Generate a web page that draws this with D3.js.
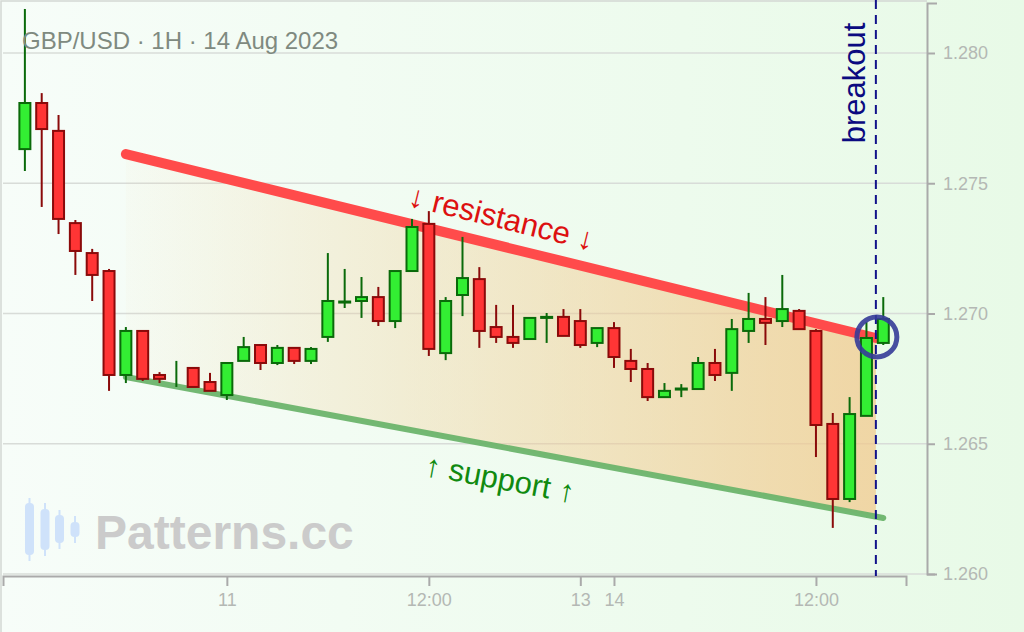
<!DOCTYPE html>
<html><head><meta charset="utf-8">
<script src="https://cdn.jsdelivr.net/npm/d3@7"></script>
<style>html,body{margin:0;padding:0;background:#fff;}svg{display:block;font-family:"Liberation Sans",Arial,sans-serif;}</style>
</head><body><svg id="c" width="1024" height="632"></svg>
<script>
// ---- data ----
const opens  = [1.27631,1.27808,1.27701,1.27347,1.27232,1.27163,1.26764,1.26933,1.26764,1.26722,1.26791,1.26737,1.26687,1.26818,1.26879,1.26810,1.26868,1.26818,1.26910,1.27042,1.27048,1.27063,1.26971,1.27163,1.27344,1.26848,1.27071,1.27132,1.26948,1.26910,1.26902,1.26983,1.26987,1.26971,1.26887,1.26944,1.26818,1.26787,1.26679,1.26708,1.26710,1.26810,1.26772,1.26933,1.26979,1.26971,1.27010,1.26933,1.26576,1.26288,1.26607,1.26887];
const highs  = [1.28169,1.27846,1.27762,1.27359,1.27248,1.27171,1.26948,1.26933,1.26775,1.26818,1.26791,1.26772,1.26810,1.26910,1.26879,1.26879,1.26868,1.26871,1.27232,1.27171,1.27140,1.27102,1.27163,1.27363,1.27393,1.27063,1.27294,1.27178,1.27033,1.27033,1.26983,1.27002,1.27017,1.27017,1.26944,1.26967,1.26864,1.26810,1.26733,1.26729,1.26833,1.26864,1.26979,1.27079,1.27063,1.27148,1.27017,1.26940,1.26618,1.26679,1.26967,1.27063];
const lows   = [1.27547,1.27409,1.27305,1.27148,1.27048,1.26703,1.26733,1.26741,1.26733,1.26718,1.26718,1.26703,1.26668,1.26818,1.26783,1.26802,1.26806,1.26806,1.26891,1.27021,1.26983,1.26952,1.26944,1.27163,1.26837,1.26821,1.26990,1.26868,1.26887,1.26868,1.26902,1.26887,1.26914,1.26868,1.26871,1.26791,1.26737,1.26664,1.26679,1.26679,1.26710,1.26741,1.26703,1.26887,1.26879,1.26948,1.26937,1.26449,1.26177,1.26276,1.26607,1.26879];
const closes = [1.27808,1.27708,1.27363,1.27240,1.27148,1.26764,1.26933,1.26749,1.26749,1.26722,1.26718,1.26703,1.26810,1.26871,1.26810,1.26868,1.26818,1.26864,1.27048,1.27046,1.27063,1.26971,1.27163,1.27332,1.26864,1.27048,1.27136,1.26933,1.26910,1.26887,1.26983,1.26987,1.26914,1.26879,1.26944,1.26833,1.26787,1.26679,1.26703,1.26712,1.26810,1.26764,1.26940,1.26979,1.26964,1.27017,1.26940,1.26572,1.26288,1.26614,1.26906,1.26979];
const xTickIndex  = [12, 24, 33, 35, 47];
const xTickLabels = ["11", "12:00", "13", "14", "12:00"];
const yTicks = [1.260, 1.265, 1.270, 1.275, 1.280];
const resistancePts = [[6, 1.27612], [50.56, 1.26906]];
const supportPts    = [[6, 1.26756], [51, 1.26215]];
const breakoutIndex = 50.56;
const breakoutPrice = 1.26910;
const titleText = "GBP/USD · 1H · 14 Aug 2023";

// ---- scales ----
const svg = d3.select("#c");
const x = d3.scaleLinear().domain([-1.3, 52.35]).range([3, 906]);
const y = d3.scaleLinear().domain([1.260, 1.281919]).range([574, 3]);

const defs = svg.append("defs");
const bg = defs.append("linearGradient").attr("id","bg").attr("x1","0").attr("x2","1").attr("y1","0").attr("y2","0");
bg.append("stop").attr("offset","0").attr("stop-color","#f7fdf9");
bg.append("stop").attr("offset","1").attr("stop-color","#e8fae7");
const fg = defs.append("linearGradient").attr("id","fg").attr("gradientUnits","userSpaceOnUse")
  .attr("x1", x(resistancePts[0][0])).attr("x2", x(breakoutIndex)).attr("y1",0).attr("y2",0);
fg.append("stop").attr("offset","0").attr("stop-color","#f2c88a").attr("stop-opacity",0.04);
fg.append("stop").attr("offset","1").attr("stop-color","#f2c88a").attr("stop-opacity",0.72);

svg.append("rect").attr("width",1024).attr("height",632).attr("fill","url(#bg)");
svg.append("path").attr("d","M1,632V1H927").attr("fill","none").attr("stroke","#d4d8d4").attr("stroke-width",1.5);

// gridlines
svg.append("g").selectAll("line").data(yTicks).join("line")
  .attr("x1",3).attr("x2",927).attr("y1",d=>y(d)).attr("y2",d=>y(d))
  .attr("stroke","#d8dcd8").attr("stroke-width",1.5);

// watermark
const wm = svg.append("g").attr("fill","#cfe2fa").attr("stroke","#cfe2fa");
[[29.5,498,503,555,561],[45,503,509,550,556],[59.5,510,515,543,549],[75,516,522,537,543]].forEach(c=>{
  wm.append("line").attr("x1",c[0]).attr("x2",c[0]).attr("y1",c[1]).attr("y2",c[4]).attr("stroke-width",2);
  wm.append("rect").attr("x",c[0]-4.5).attr("y",c[2]).attr("width",9).attr("height",c[3]-c[2]).attr("rx",4).attr("stroke","none");
});
svg.append("text").attr("x",95).attr("y",549).attr("font-size",48).attr("font-weight","bold")
  .attr("fill","#cbcbcb").text("Patterns.cc");

// channel fill
const interp = (p, i) => p[0][1] + (p[1][1]-p[0][1])*(i-p[0][0])/(p[1][0]-p[0][0]);
const poly = [
  [x(resistancePts[0][0]), y(resistancePts[0][1])],
  [x(breakoutIndex), y(interp(resistancePts, breakoutIndex))],
  [x(breakoutIndex), y(interp(supportPts, breakoutIndex))],
  [x(supportPts[0][0]), y(supportPts[0][1])]
];
svg.append("path").attr("d", d3.line()(poly)+"Z").attr("fill","url(#fg)");

// support & resistance lines
svg.append("path").attr("d", d3.line()(supportPts.map(p=>[x(p[0]),y(p[1])])))
  .attr("stroke","#6cb46c").attr("stroke-width",6).attr("stroke-linecap","round").attr("fill","none").attr("opacity",0.95);
svg.append("path").attr("d", d3.line()(resistancePts.map(p=>[x(p[0]),y(p[1])])))
  .attr("stroke","#ff4b4b").attr("stroke-width",10).attr("stroke-linecap","round").attr("fill","none");

// candles
const data = opens.map((o,i)=>({i, o, h:highs[i], l:lows[i], c:closes[i]}));
const cg = svg.append("g");
const bw = 11;
data.forEach(d=>{
  const up = d.c >= d.o;
  const stroke = up ? "#0a6a0a" : "#8a0a0a";
  const fill = up ? "#33ee33" : "#ff3535";
  cg.append("line").attr("x1",x(d.i)).attr("x2",x(d.i)).attr("y1",y(d.h)).attr("y2",y(d.l))
    .attr("stroke",stroke).attr("stroke-width",2);
  const top = y(Math.max(d.o,d.c)), bot = y(Math.min(d.o,d.c));
  cg.append("rect").attr("x",x(d.i)-bw/2).attr("y",top).attr("width",bw).attr("height",bot-top)
    .attr("fill",fill).attr("stroke",stroke).attr("stroke-width",2);
});

// axes
const xAxis = d3.axisBottom(x).tickValues(xTickIndex).tickFormat((d,k)=>xTickLabels[k]).tickSize(10).tickPadding(7).tickSizeOuter(10);
const gx = svg.append("g").attr("transform","translate(0,576)").call(xAxis);
const yAxis = d3.axisRight(y).tickValues(yTicks).tickFormat(d3.format(".3f")).tickSize(8).tickPadding(8).tickSizeOuter(10);
const gy = svg.append("g").attr("transform","translate(927,0)").call(yAxis);
[gx, gy].forEach(g=>{
  g.select(".domain").attr("stroke","#aaaaaa").attr("stroke-width",2);
  g.selectAll(".tick line").attr("stroke","#aaaaaa").attr("stroke-width",2);
  g.selectAll(".tick text").attr("fill","#b4b8b4").attr("font-size",18).attr("font-family","Liberation Sans, Arial, sans-serif");
});

// breakout
svg.append("line").attr("x1",x(breakoutIndex)).attr("x2",x(breakoutIndex)).attr("y1",0).attr("y2",576)
  .attr("stroke","#12128a").attr("stroke-width",2).attr("stroke-dasharray","9,6");
svg.append("text").attr("transform",`translate(${x(breakoutIndex)-11},83) rotate(-90)`)
  .attr("text-anchor","middle").attr("font-size",31).attr("fill","#0a0a80").text("breakout");
svg.append("circle").attr("cx",x(breakoutIndex)+1).attr("cy",y(breakoutPrice)).attr("r",20)
  .attr("fill","none").attr("stroke","#353b98").attr("stroke-width",5).attr("opacity",0.9);

// labels
svg.append("text").attr("x",22).attr("y",49).attr("font-size",24).attr("fill","#7f8a80").text(titleText);
const ra = Math.atan2(y(resistancePts[1][1])-y(resistancePts[0][1]), x(resistancePts[1][0])-x(resistancePts[0][0]))*180/Math.PI;
const sa = Math.atan2(y(supportPts[1][1])-y(supportPts[0][1]), x(supportPts[1][0])-x(supportPts[0][0]))*180/Math.PI;
svg.append("text").attr("transform",`translate(499,228) rotate(${ra})`).attr("text-anchor","middle")
  .attr("font-size",31).attr("fill","#dd1010").text("↓ resistance ↓");
svg.append("text").attr("transform",`translate(498,489) rotate(${sa})`).attr("text-anchor","middle")
  .attr("font-size",31).attr("fill","#108a10").text("↑ support ↑");
</script></body></html>
